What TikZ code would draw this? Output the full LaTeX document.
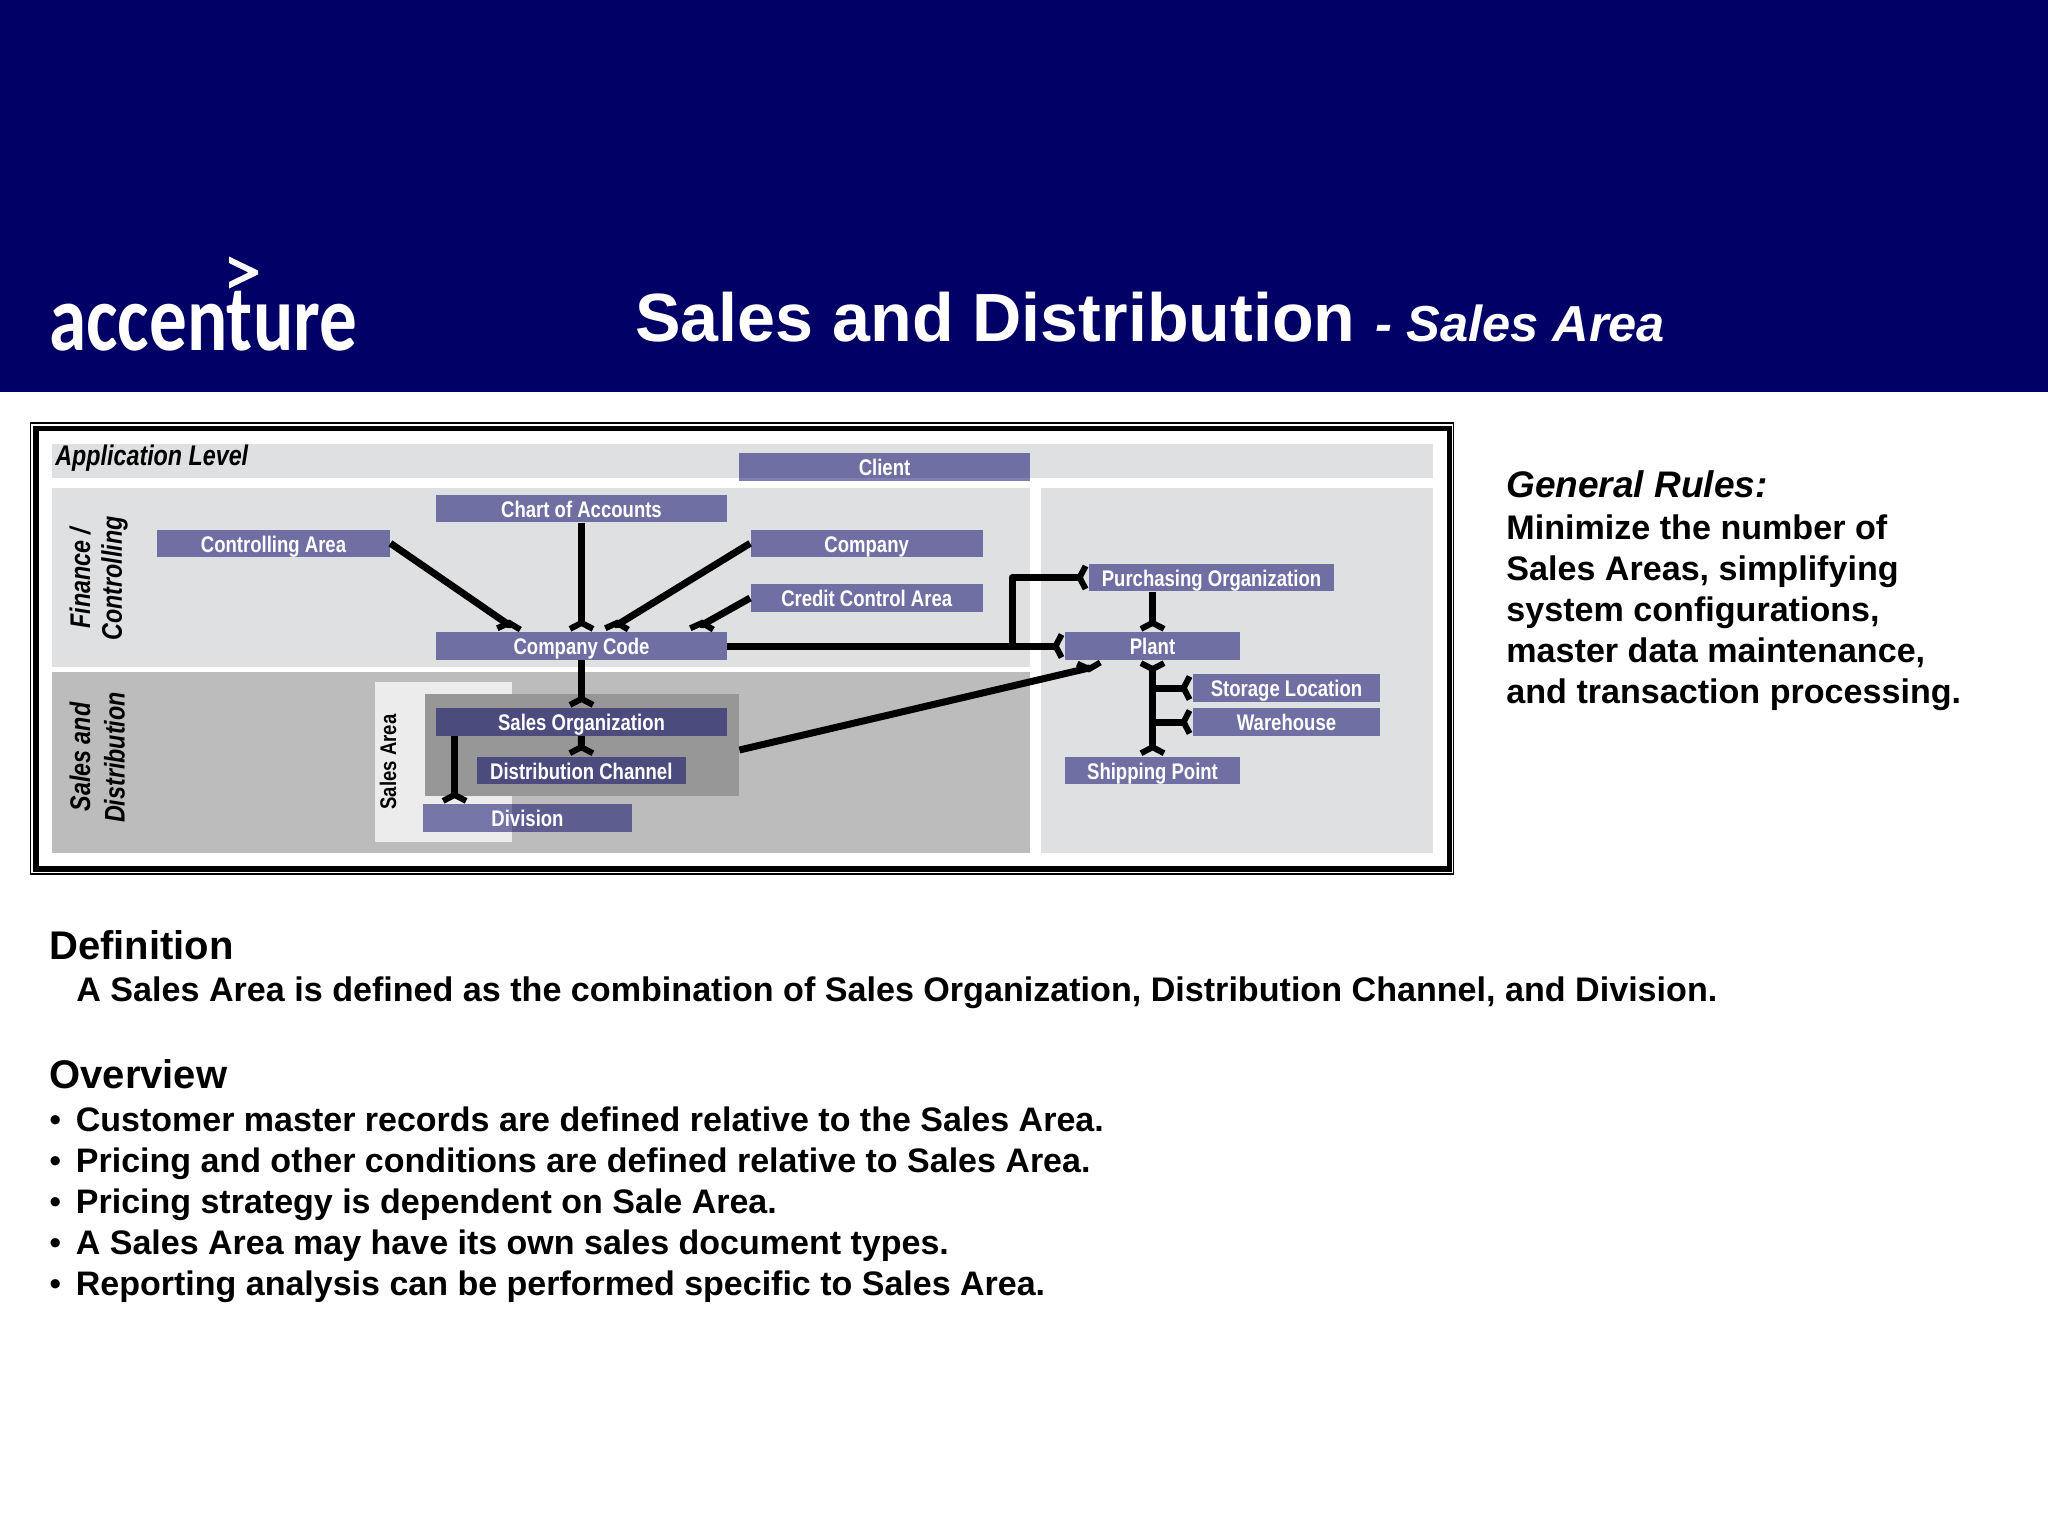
\documentclass[tikz,border=0pt]{standalone}
\usepackage{fontspec}
\usepackage{xcolor}
\setmainfont{Liberation Sans}
\newfontfamily\boxfont[FakeStretch=0.82]{Liberation Sans}
\newfontfamily\logofont[FakeStretch=0.8]{Carlito}
\usetikzlibrary{arrows.meta}
\definecolor{headnavy}{HTML}{000066}
\definecolor{lightpanel}{HTML}{DFE0E2}
\definecolor{midpanel}{HTML}{BCBCBC}
\definecolor{darkpanel}{HTML}{979797}
\definecolor{areapanel}{HTML}{ECECEC}

\begin{document}
\begin{tikzpicture}[
    x=0.5pt, y=-0.5pt,
    panel/.style={rectangle, draw=none, inner sep=0pt},
    orgbox/.style={rectangle, fill=headnavy, fill opacity=0.5, text opacity=1, text=white, inner sep=0pt, minimum height=13.7pt, text height=9.5pt, text depth=0.8pt, font=\boxfont\bfseries\fontsize{11.3}{13}\selectfont},
    sidelabel/.style={rotate=90, inner sep=0pt, font=\boxfont\bfseries\itshape\fontsize{14.2}{16}\selectfont},
    link/.style={line width=3.5pt, line join=round},
    linkto/.style={link, -{Straight Barb[reversed, length=3pt, width=11.5pt, line width=3pt]}},
    linkboth/.style={link, {Straight Barb[reversed, length=3pt, width=11.5pt, line width=3pt]}-{Straight Barb[reversed, length=3pt, width=11.5pt, line width=3pt]}},
    bodytext/.style={anchor=base west, inner sep=0pt, font=\bfseries\fontsize{17.05}{20}\selectfont},
    overtext/.style={anchor=base west, inner sep=0pt, font=\bfseries\fontsize{17}{20}\selectfont},
    bulletmark/.style={anchor=base west, inner sep=0pt, font=\fontsize{17}{20}\selectfont},
    headtext/.style={anchor=base west, inner sep=0pt, font=\bfseries\fontsize{20}{24}\selectfont}
]
\useasboundingbox (0,0) rectangle (2048,1536);

% header
\node[panel, fill=headnavy, minimum width=1024pt, minimum height=196pt] (header) at (1024,196) {};
\node[anchor=base west, inner sep=0pt, text=white, font=\logofont\bfseries\fontsize{47}{50}\selectfont] (logo) at (49,350) {accenture};
\fill[white] (229,256.5) -- (258,270.5) -- (258,274.5) -- (229,288.5) -- (229,282) -- (248.5,272.5) -- (229,263) -- cycle;
\node[anchor=base west, inner sep=0pt, text=white, font=\bfseries\fontsize{34.1}{38}\selectfont] (title) at (635,341) {Sales and Distribution};
\node[anchor=base west, inner sep=0pt, text=white, font=\bfseries\itshape\fontsize{25.3}{28}\selectfont] (subtitle) at (1375,341) {- Sales Area};

% frame
\node[panel, draw=black, line width=0.7pt, minimum width=711.5pt, minimum height=225.5pt] (frameout) at (742.2,648.5) {};
\node[panel, draw=black, line width=2.7pt, minimum width=706.7pt, minimum height=220.2pt] (framein) at (742.7,648.7) {};

% panels
\node[panel, fill=lightpanel, minimum width=690.5pt, minimum height=17pt] (applevel) at (742,460.7) {};
\node[panel, fill=lightpanel, minimum width=489.2pt, minimum height=89.5pt] (finance) at (540.7,577.2) {};
\node[panel, fill=midpanel, minimum width=489.2pt, minimum height=90.5pt] (salesdist) at (540.7,762.2) {};
\node[panel, fill=lightpanel, minimum width=195.8pt, minimum height=182.5pt] (logistics) at (1236.8,670.5) {};
\node[panel, fill=areapanel, minimum width=68.5pt, minimum height=80pt] (salesarea) at (443.5,762) {};
\node[panel, fill=darkpanel, minimum width=157pt, minimum height=51pt] (salesgroup) at (582,745) {};

% labels
\node[anchor=base west, inner sep=0pt, font=\boxfont\bfseries\itshape\fontsize{14.2}{17}\selectfont] (applabel) at (55,465) {Application Level};
\node[sidelabel] (financelabel) at (80,578) {Finance /};
\node[sidelabel] (controllabel) at (114.5,578.5) {Controlling};
\node[sidelabel] (saleslabel) at (80,757) {Sales and};
\node[sidelabel] (distlabel) at (114.5,757.5) {Distribution};
\node[rotate=90, inner sep=0pt, font=\boxfont\bfseries\fontsize{11.3}{13}\selectfont] (arealabel) at (388,762) {Sales Area};

% org units
\node[orgbox, minimum width=145.5pt] (client) at (884.5,467) {Client};
\node[orgbox, minimum width=145.5pt] (chart) at (581.5,508.5) {Chart of Accounts};
\node[orgbox, minimum width=116.5pt] (ctrlarea) at (273.5,543.3) {Controlling Area};
\node[orgbox, minimum width=116.2pt] (company) at (866.7,543.3) {Company};
\node[orgbox, minimum width=116.2pt] (credit) at (866.7,598) {Credit Control Area};
\node[orgbox, minimum width=145.5pt] (cocode) at (581.5,646) {Company Code};
\node[orgbox, minimum width=145.5pt] (salesorg) at (581.5,722) {Sales Organization};
\node[orgbox, minimum width=104.7pt] (distchan) at (581.3,770.3) {Distribution Channel};
\node[orgbox, minimum width=104.5pt] (division) at (527.5,818) {Division};
\node[orgbox, minimum width=122.5pt] (purchorg) at (1211.5,577.5) {Purchasing Organization};
\node[orgbox, minimum width=87.5pt] (plant) at (1152.5,646) {Plant};
\node[orgbox, minimum width=93.5pt] (storage) at (1286.5,688) {Storage Location};
\node[orgbox, minimum width=93.5pt] (warehouse) at (1286.5,722) {Warehouse};
\node[orgbox, minimum width=87.5pt] (shipping) at (1152.5,770.3) {Shipping Point};

\coordinate (branch) at (1012,646);
\coordinate (stemone) at (1152.5,688);
\coordinate (stemtwo) at (1152.5,722);
\coordinate (ctrlbend) at (509,625);
\coordinate (compbend) at (617,625);
\coordinate (credbend) at (702,625);
\coordinate (groupbend) at (1089,668);

\draw[linkto] (ctrlarea.east) -- (ctrlbend) -- ([xshift=36.5pt]cocode.north west);
\draw[linkto] (chart.south) -- (cocode.north);
\draw[linkto] (company.west) -- (compbend) -- ([xshift=90.5pt]cocode.north west);
\draw[linkto] (credit.west) -- (credbend) -- ([xshift=133pt]cocode.north west);
\draw[linkto] (cocode.south) -- (salesorg.north);
\draw[linkto] (salesorg.south) -- (distchan.north);
\draw[linkto] ([xshift=9.5pt]salesorg.south west) -- ([xshift=16pt]division.north west);
\draw[linkto] (cocode.east) -- (plant.west);
\draw[linkto] (branch) |- (purchorg.west);
\draw[linkto] ([yshift=-2.5pt]salesgroup.east) -- (groupbend) -- ([xshift=12pt]plant.south west);
\draw[linkto] (plant.north |- purchorg.south) -- (plant.north);
\draw[linkboth] (plant.south) -- (shipping.north);
\draw[linkto] (stemone) -- (storage.west);
\draw[linkto] (stemtwo) -- (warehouse.west);

% general rules
\node[anchor=base west, inner sep=0pt, font=\bfseries\itshape\fontsize{18.5}{22}\selectfont] (rulehead) at (1506,497.6) {General Rules:};
\node[bodytext] (ruleone) at (1506,539) {Minimize the number of};
\node[bodytext] (ruletwo) at (1506,580) {Sales Areas, simplifying};
\node[bodytext] (rulethree) at (1506,621) {system configurations,};
\node[bodytext] (rulefour) at (1506,662) {master data maintenance,};
\node[bodytext] (rulefive) at (1506,703) {and transaction processing.};

% definition and overview
\node[headtext] (defhead) at (49,959) {Definition};
\node[bodytext] (deftext) at (76,1001.7) {A Sales Area is defined as the combination of Sales Organization, Distribution Channel, and Division.};
\node[headtext] (overhead) at (49,1088) {Overview};
\node[bulletmark] (bulone) at (49,1131) {•};
\node[overtext] (ovone) at (75.5,1131) {Customer master records are defined relative to the Sales Area.};
\node[bulletmark] (bultwo) at (49,1172) {•};
\node[overtext] (ovtwo) at (75.5,1172) {Pricing and other conditions are defined relative to Sales Area.};
\node[bulletmark] (bulthree) at (49,1213) {•};
\node[overtext] (ovthree) at (75.5,1213) {Pricing strategy is dependent on Sale Area.};
\node[bulletmark] (bulfour) at (49,1254) {•};
\node[overtext] (ovfour) at (75.5,1254) {A Sales Area may have its own sales document types.};
\node[bulletmark] (bulfive) at (49,1295) {•};
\node[overtext] (ovfive) at (75.5,1295) {Reporting analysis can be performed specific to Sales Area.};
\end{tikzpicture}
\end{document}
